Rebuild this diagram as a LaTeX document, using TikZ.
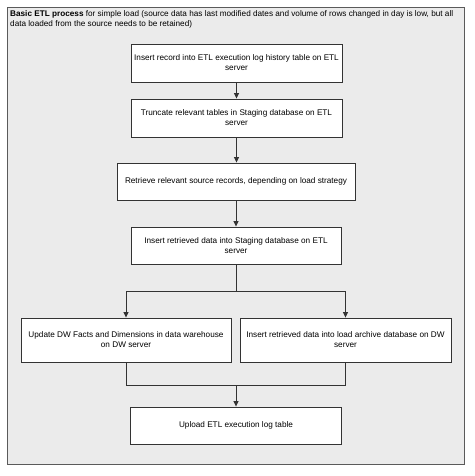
\documentclass[tikz,border=0pt]{standalone}
\usepackage{fontspec}
\setmainfont{Liberation Sans}
\usetikzlibrary{arrows.meta,positioning}
\definecolor{framefill}{HTML}{EBEBEB}
\definecolor{frameline}{HTML}{5A5A5A}
\definecolor{boxline}{HTML}{333333}
\tikzset{
  stepbox/.style={draw=boxline,fill=white,line width=0.9pt,rectangle,align=center,
    font=\fontsize{8.2}{10}\selectfont,inner sep=2pt},
  arr/.style={draw=boxline,line width=0.8pt,-{Triangle[length=5.5pt,width=5pt]}},
  ln/.style={draw=boxline,line width=0.8pt}
}
\begin{document}
\begin{tikzpicture}[x=1pt,y=-1pt]
\useasboundingbox (0,0) rectangle (474,476);
\draw[draw=frameline,fill=framefill,line width=1pt] (7,8) rectangle (464,464);
\node[anchor=north west,align=left,inner sep=0pt,font=\fontsize{8.2}{10.3}\selectfont] (hdr) at (10,10.5)
  {\textbf{Basic ETL process} for simple load (source data has last modified dates and volume of rows changed in day is low, but all\\
   data loaded from the source needs to be retained)};
\node[stepbox,minimum width=211pt,minimum height=38pt] (b1) at (236.5,63)
  {Insert record into ETL execution log history table on ETL\\server};
\node[stepbox,minimum width=211pt,minimum height=38pt] (b2) at (236.5,118)
  {Truncate relevant tables in Staging database on ETL\\server};
\node[stepbox,minimum width=238pt,minimum height=37pt] (b3) at (236,181.5)
  {Retrieve relevant source records, depending on load strategy};
\node[stepbox,minimum width=210pt,minimum height=37pt] (b4) at (236,245.5)
  {Insert retrieved data into Staging database on ETL\\server};
\node[stepbox,minimum width=210pt,minimum height=44pt] (b5) at (126,340)
  {Update DW Facts and Dimensions in data warehouse\\on DW server};
\node[stepbox,minimum width=211pt,minimum height=44pt] (b6) at (345.5,340)
  {Insert retrieved data into load archive database on DW\\server};
\node[stepbox,minimum width=211pt,minimum height=37pt] (b7) at (236,425.5)
  {Upload ETL execution log table};
\coordinate (j1) at (236,291);
\coordinate (j2) at (236,385);
\draw[arr] (b1) -- (b2);
\draw[arr] (b2.south) -- (b2.south |- b3.north);
\draw[arr] (b3) -- (b4);
\draw[ln] (b4.south) -- (j1);
\draw[arr] (j1) -| (b5.north);
\draw[arr] (j1) -| (b6.north);
\draw[ln] (b5.south) |- (j2);
\draw[ln] (b6.south) |- (j2);
\draw[arr] (j2) -- (b7.north);
\end{tikzpicture}
\end{document}
